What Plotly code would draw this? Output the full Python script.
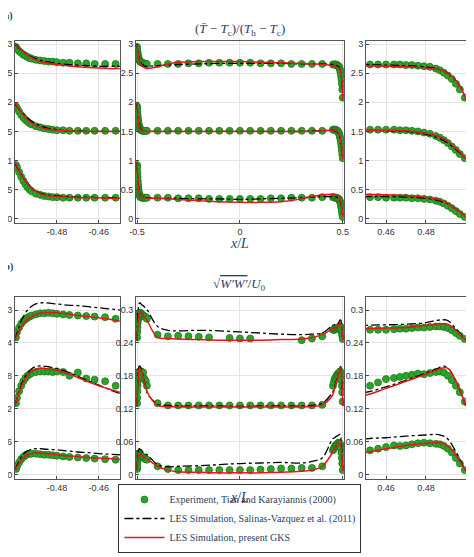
import plotly.graph_objects as go

# line grid (simulations)
x_line = [-0.5,-0.498,-0.496,-0.494,-0.492,-0.49,-0.488,-0.485,-0.48,-0.475,-0.47,-0.465,-0.46,-0.455,-0.45,
          -0.4,-0.35,-0.3,-0.2,-0.1,0,0.1,0.2,0.3,0.35,0.4,
          0.45,0.46,0.47,0.48,0.485,0.488,0.49,0.492,0.494,0.496,0.498,0.5]
# experiment positions
x_exp = [-0.4995,-0.499,-0.498,-0.497,-0.496,-0.495,-0.494,-0.493,-0.492,-0.49,-0.488,-0.486,-0.484,-0.482,-0.48,-0.477,-0.474,-0.47,-0.466,-0.462,-0.457,-0.452,
         -0.4,-0.35,-0.3,-0.25,-0.2,-0.15,-0.1,-0.05,0,0.05,0.1,0.15,0.2,0.25,0.3,0.35,0.4,
         0.452,0.456,0.46,0.464,0.467,0.47,0.473,0.476,0.479,0.482,0.485,0.487,0.489,0.491,0.493,0.495,0.497,0.4995]

# ---- (a) temperature ----
T1_les = [3.0,2.93,2.87,2.82,2.78,2.75,2.72,2.70,2.67,2.65,2.64,2.63,2.62,2.62,2.62,
          2.63,2.64,2.65,2.66,2.67,2.67,2.67,2.67,2.66,2.66,2.66,
          2.65,2.64,2.63,2.61,2.58,2.55,2.52,2.47,2.41,2.33,2.22,2.05]
T1_gks = [3.02,2.94,2.87,2.81,2.77,2.73,2.70,2.68,2.65,2.63,2.61,2.60,2.59,2.58,2.58,
          2.61,2.66,2.69,2.70,2.70,2.70,2.69,2.68,2.67,2.66,2.65,
          2.63,2.62,2.61,2.59,2.57,2.55,2.52,2.47,2.41,2.33,2.22,2.05]
T2_les = [1.97,1.88,1.80,1.73,1.67,1.63,1.60,1.56,1.53,1.51,1.51,1.50,1.50,1.50,1.50,
          1.50,1.50,1.50,1.50,1.50,1.50,1.50,1.50,1.50,1.51,1.51,
          1.52,1.51,1.50,1.45,1.40,1.36,1.32,1.27,1.22,1.16,1.10,1.02]
T2_gks = [2.0,1.88,1.78,1.70,1.64,1.60,1.57,1.54,1.52,1.51,1.50,1.50,1.50,1.50,1.50,
          1.50,1.50,1.50,1.50,1.50,1.50,1.50,1.50,1.50,1.50,1.51,
          1.52,1.52,1.51,1.47,1.43,1.39,1.35,1.30,1.24,1.18,1.11,1.02]
T3_les = [0.95,0.82,0.70,0.60,0.52,0.47,0.44,0.41,0.39,0.38,0.37,0.37,0.36,0.36,0.36,
          0.35,0.35,0.35,0.34,0.34,0.33,0.34,0.35,0.36,0.37,0.38,
          0.38,0.38,0.37,0.35,0.32,0.29,0.27,0.23,0.19,0.14,0.09,0.03]
T3_gks = [0.98,0.83,0.70,0.60,0.52,0.47,0.43,0.40,0.38,0.37,0.36,0.36,0.36,0.35,0.35,
          0.35,0.34,0.33,0.31,0.29,0.28,0.28,0.29,0.34,0.38,0.41,
          0.42,0.41,0.40,0.37,0.34,0.31,0.28,0.24,0.19,0.14,0.09,0.03]
T1_exp = [2.95,2.92,2.88,2.85,2.82,2.80,2.78,2.76,2.75,2.73,2.72,2.71,2.70,2.70,2.69,2.68,2.68,2.67,2.67,2.66,2.66,2.66,
          2.66,2.66,2.66,2.67,2.67,2.68,2.68,2.68,2.68,2.68,2.67,2.67,2.67,2.66,2.66,2.66,2.66,
          2.65,2.65,2.65,2.65,2.65,2.64,2.64,2.63,2.62,2.61,2.58,2.55,2.51,2.46,2.40,2.32,2.22,2.08]
T2_exp = [1.93,1.90,1.84,1.78,1.74,1.70,1.67,1.64,1.62,1.59,1.57,1.55,1.54,1.53,1.52,1.52,1.51,1.51,1.51,1.51,1.51,1.51,
          1.51,1.51,1.51,1.51,1.51,1.51,1.51,1.51,1.51,1.51,1.51,1.51,1.51,1.51,1.51,1.51,1.51,
          1.53,1.53,1.53,1.53,1.52,1.52,1.51,1.50,1.48,1.46,1.42,1.39,1.35,1.30,1.24,1.18,1.11,1.04]
T3_exp = [0.92,0.88,0.80,0.72,0.65,0.59,0.54,0.50,0.47,0.43,0.41,0.39,0.38,0.37,0.37,0.36,0.36,0.36,0.36,0.36,0.36,0.36,
          0.36,0.36,0.35,0.35,0.35,0.34,0.34,0.34,0.34,0.34,0.34,0.35,0.35,0.36,0.36,0.36,0.37,
          0.37,0.37,0.36,0.36,0.36,0.36,0.35,0.35,0.34,0.33,0.31,0.29,0.26,0.22,0.18,0.13,0.08,0.03]

# ---- (b) spanwise fluctuation ----
W1_les = [0.245,0.27,0.288,0.30,0.307,0.311,0.313,0.313,0.311,0.309,0.308,0.306,0.304,0.302,0.300,
          0.27,0.263,0.262,0.263,0.262,0.26,0.258,0.256,0.255,0.256,0.258,
          0.272,0.273,0.274,0.277,0.281,0.282,0.282,0.278,0.27,0.262,0.253,0.245]
W1_gks = [0.245,0.262,0.274,0.283,0.288,0.292,0.294,0.295,0.295,0.293,0.29,0.288,0.286,0.283,0.28,
          0.25,0.248,0.247,0.246,0.245,0.245,0.245,0.246,0.247,0.25,0.255,
          0.266,0.267,0.268,0.272,0.274,0.275,0.275,0.272,0.266,0.26,0.252,0.245]
W2_les = [0.125,0.152,0.172,0.185,0.193,0.197,0.198,0.197,0.193,0.187,0.179,0.171,0.163,0.155,0.148,
          0.128,0.126,0.125,0.125,0.125,0.124,0.125,0.125,0.125,0.126,0.13,
          0.15,0.16,0.172,0.185,0.192,0.197,0.197,0.19,0.178,0.163,0.145,0.125]
W2_gks = [0.125,0.15,0.168,0.18,0.188,0.192,0.194,0.193,0.19,0.184,0.177,0.169,0.162,0.156,0.150,
          0.126,0.124,0.123,0.123,0.123,0.123,0.123,0.123,0.123,0.124,0.127,
          0.145,0.157,0.17,0.183,0.19,0.194,0.195,0.19,0.178,0.163,0.145,0.125]
W3_les = [0.008,0.025,0.037,0.043,0.046,0.047,0.047,0.046,0.045,0.043,0.041,0.04,0.038,0.037,0.036,
          0.018,0.014,0.015,0.016,0.018,0.02,0.021,0.022,0.021,0.024,0.03,
          0.065,0.067,0.07,0.072,0.073,0.071,0.068,0.06,0.048,0.035,0.02,0.007]
W3_gks = [0.008,0.02,0.03,0.036,0.038,0.039,0.039,0.038,0.036,0.034,0.033,0.031,0.03,0.029,0.028,
          0.015,0.008,0.005,0.004,0.003,0.003,0.003,0.004,0.006,0.008,0.015,
          0.04,0.047,0.053,0.057,0.058,0.057,0.054,0.048,0.04,0.03,0.018,0.006]
W1_exp = [0.25,0.26,0.268,0.275,0.28,0.283,0.286,0.288,0.29,0.292,0.294,0.294,0.295,0.294,0.293,0.292,0.291,0.29,0.289,0.288,0.287,0.284,
          0.255,0.252,0.253,0.252,0.251,0.250,None,0.249,0.248,0.248,None,None,None,None,0.245,0.248,0.252,
          0.264,0.264,0.264,0.265,0.266,0.266,0.267,0.268,0.268,0.269,0.27,0.27,0.269,0.267,0.263,0.258,0.253,0.247]
W2_exp = [0.13,0.14,0.152,0.162,0.17,0.176,0.18,0.183,0.185,0.187,0.188,0.188,0.188,0.187,0.188,0.187,0.18,0.186,0.175,0.173,0.17,0.162,
          0.13,0.126,0.126,0.126,0.126,0.126,0.126,0.126,0.126,0.126,0.126,0.126,0.126,0.126,0.126,0.126,0.127,
          0.162,0.168,0.174,0.176,0.178,0.18,0.182,0.184,0.183,0.185,0.187,0.188,0.186,0.18,0.172,0.162,0.15,0.133]
W3_exp = [0.01,0.015,0.022,0.028,0.032,0.035,0.037,0.038,0.038,0.038,0.037,0.036,0.036,0.035,0.034,0.033,0.032,0.031,0.03,0.029,0.028,0.027,
          0.015,0.01,0.008,0.008,0.008,0.008,0.008,0.008,0.008,0.008,0.009,0.01,0.011,0.011,0.012,0.012,0.015,
          0.044,0.047,0.05,0.053,0.052,0.053,0.055,0.057,0.058,0.057,0.056,0.055,0.052,0.047,0.04,0.03,0.02,0.008]

top_sets = [(T1_exp, T1_les, T1_gks), (T2_exp, T2_les, T2_gks), (T3_exp, T3_les, T3_gks)]
bot_sets = [(W1_exp, W1_les, W1_gks), (W2_exp, W2_les, W2_gks), (W3_exp, W3_les, W3_gks)]

fig = go.Figure()
xdom = [(0.015, 0.242), (0.277, 0.727), (0.775, 0.991)]
ydom = [(0.606, 0.939), (0.136, 0.470)]
first = True
for r, sets in enumerate([top_sets, bot_sets]):
    for c in range(3):
        n = r * 3 + c + 1
        xa = "x" if n == 1 else f"x{n}"
        ya = "y" if n == 1 else f"y{n}"
        for (e, l, g) in sets:
            fig.add_trace(go.Scatter(x=x_exp, y=e, xaxis=xa, yaxis=ya, mode="markers",
                                     marker=dict(color="#2aa52a", size=7, line=dict(color="#1e7a1e", width=0.8)),
                                     name="Experiment, Tian and Karayiannis (2000)", showlegend=first, legendrank=1))
            fig.add_trace(go.Scatter(x=x_line, y=l, xaxis=xa, yaxis=ya, mode="lines", line_shape="spline",
                                     line=dict(color="black", width=1.3, dash="dashdot"),
                                     name="LES Simulation, Salinas-Vazquez et al. (2011)", showlegend=first, legendrank=2))
            fig.add_trace(go.Scatter(x=x_line, y=g, xaxis=xa, yaxis=ya, mode="lines", line_shape="spline",
                                     line=dict(color="#e8141a", width=1.5),
                                     name="LES Simulation, present GKS", showlegend=first, legendrank=3))
            first = False

ax_common = dict(showline=True, linecolor="#555", linewidth=1, mirror=True, ticks="inside", ticklen=3,
                 showgrid=True, gridcolor="#e4e4e4", zeroline=False, automargin=False,
                 tickfont=dict(size=9, color="#333", family="Liberation Sans"))
xranges = [[-0.5, -0.45], [-0.505, 0.505], [0.45, 0.5]]
xticks = [([-0.5, -0.48, -0.46], ["-0.5", "-0.48", "-0.46"]), ([-0.5, 0, 0.5], ["-0.5", "0", "0.5"]), ([0.46, 0.48, 0.5], ["0.46", "0.48", "0.5"])]
yranges = [[-0.07, 3.05], [-0.008, 0.324]]
yticks = [([0, 0.5, 1, 1.5, 2, 2.5, 3], ["0", "0.5", "1", "1.5", "2", "2.5", "3"]),
          ([0, 0.06, 0.12, 0.18, 0.24, 0.3], ["0", "0.06", "0.12", "0.18", "0.24", "0.3"])]
for r in range(2):
    for c in range(3):
        n = r * 3 + c + 1
        sfx = "" if n == 1 else str(n)
        fig.layout["xaxis" + sfx] = dict(ax_common, domain=xdom[c], anchor="y" + sfx, range=xranges[c],
                                         tickvals=xticks[c][0], ticktext=xticks[c][1])
        fig.layout["yaxis" + sfx] = dict(ax_common, domain=ydom[r], anchor="x" + sfx, range=yranges[r],
                                         tickvals=yticks[r][0], ticktext=yticks[r][1])

serif = "Liberation Serif"
fig.add_annotation(x=-0.02, y=1.0, text="<b>(a)</b>", font=dict(size=10, family=serif),
                   xref="paper", yref="paper", xanchor="left", yanchor="top", showarrow=False)
fig.add_annotation(x=-0.02, y=0.54, text="<b>(b)</b>", font=dict(size=10, family=serif),
                   xref="paper", yref="paper", xanchor="left", yanchor="top", showarrow=False)
fig.add_annotation(x=0.502, y=0.942, xref="paper", yref="paper", yanchor="bottom", showarrow=False,
                   text="(<i>T̄</i> − <i>T</i><sub>c</sub>)/(<i>T</i><sub>h</sub> − <i>T</i><sub>c</sub>)",
                   font=dict(size=13, family=serif))
fig.add_annotation(x=0.502, y=0.473, xref="paper", yref="paper", yanchor="bottom", showarrow=False,
                   text="√<span style='text-decoration:overline'><i>W′W′</i></span>/<i>U</i><sub>0</sub>",
                   font=dict(size=13, family=serif))
for yy in [0.567, 0.102]:
    fig.add_annotation(x=0.502, y=yy, xref="paper", yref="paper", yanchor="middle", showarrow=False,
                       text="<i>x</i>/<i>L</i>", font=dict(size=14, family=serif))

fig.update_layout(width=462, height=545, margin=dict(l=0, r=0, t=0, b=0),
                  plot_bgcolor="white", paper_bgcolor="white",
                  legend=dict(x=0.502, y=0.0, xanchor="center", yanchor="bottom", bordercolor="#333", borderwidth=1,
                              font=dict(size=10, family=serif), tracegroupgap=0, itemwidth=40,
                              bgcolor="white"))
fig.write_html("out.html")
